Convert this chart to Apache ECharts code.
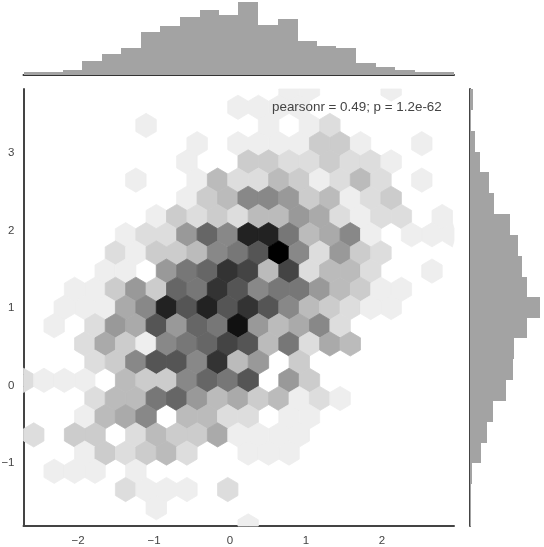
<!DOCTYPE html>
<html><head><meta charset="utf-8">
<style>html,body{margin:0;padding:0;background:#fff}#c{width:544px;height:547px}</style>
<script src="https://cdn.jsdelivr.net/npm/echarts@6/dist/echarts.min.js"></script>
</head><body><div id="c"></div>
<script>
const xTicks = [-2, -1, 0, 1, 2];
const yTicks = [-1, 0, 1, 2, 3];
const annotation = 'pearsonr = 0.49; p = 1.2e-62';
// [x, y, count]
const hexBins = [
[0.777,3.829,1],[1.046,3.829,1],[2.122,3.829,1],
[0.105,3.594,1],[0.374,3.594,1],[0.643,3.594,1],[0.912,3.594,1],
[-1.106,3.359,1],[0.508,3.359,1],[1.046,3.359,1],[1.315,3.359,2],
[-0.433,3.124,1],[0.105,3.124,1],[0.374,3.124,1],[0.643,3.124,1],[0.912,3.124,1],[1.181,3.124,3],[1.450,3.124,3],[1.719,3.124,1],[2.526,3.124,1],
[-0.568,2.889,1],[0.239,2.889,3],[0.508,2.889,3],[0.777,2.889,2],[1.046,2.889,2],[1.315,2.889,3],[1.584,2.889,2],[1.853,2.889,2],[2.122,2.889,1],
[-1.240,2.654,1],[-0.433,2.654,1],[-0.164,2.654,4],[0.105,2.654,2],[0.374,2.654,2],[0.643,2.654,4],[0.912,2.654,3],[1.181,2.654,1],[1.450,2.654,2],[1.719,2.654,4],[1.988,2.654,2],[2.526,2.654,1],
[-0.568,2.419,1],[-0.299,2.419,3],[-0.030,2.419,4],[0.239,2.419,7],[0.508,2.419,7],[0.777,2.419,6],[1.046,2.419,3],[1.315,2.419,4],[1.584,2.419,1],[1.853,2.419,2],[2.122,2.419,3],
[-0.971,2.184,1],[-0.702,2.184,3],[-0.433,2.184,2],[-0.164,2.184,3],[0.105,2.184,2],[0.374,2.184,4],[0.643,2.184,4],[0.912,2.184,6],[1.181,2.184,5],[1.450,2.184,2],[1.719,2.184,1],[1.988,2.184,2],[2.257,2.184,2],[2.795,2.184,1],
[-1.375,1.949,1],[-1.106,1.949,2],[-0.837,1.949,2],[-0.568,1.949,6],[-0.299,1.949,9],[-0.030,1.949,7],[0.239,1.949,13],[0.508,1.949,13],[0.777,1.949,8],[1.046,1.949,4],[1.315,1.949,5],[1.584,1.949,7],[1.853,1.949,1],[2.391,1.949,1],[2.660,1.949,1],[2.929,1.949,1],
[-1.509,1.714,2],[-1.240,1.714,1],[-0.971,1.714,3],[-0.702,1.714,3],[-0.433,1.714,4],[-0.164,1.714,7],[0.105,1.714,8],[0.374,1.714,10],[0.643,1.714,15],[0.912,1.714,7],[1.181,1.714,2],[1.450,1.714,6],[1.719,1.714,3],[1.988,1.714,2],
[-1.644,1.480,1],[-1.375,1.480,1],[-0.837,1.480,6],[-0.568,1.480,8],[-0.299,1.480,9],[-0.030,1.480,12],[0.239,1.480,11],[0.508,1.480,4],[0.777,1.480,11],[1.046,1.480,2],[1.315,1.480,4],[1.584,1.480,4],[1.853,1.480,2],[2.660,1.480,1],
[-2.047,1.245,1],[-1.778,1.245,1],[-1.509,1.245,3],[-1.240,1.245,6],[-0.971,1.245,3],[-0.702,1.245,9],[-0.433,1.245,8],[-0.164,1.245,12],[0.105,1.245,10],[0.374,1.245,7],[0.643,1.245,8],[0.912,1.245,8],[1.181,1.245,6],[1.450,1.245,4],[1.719,1.245,3],[1.988,1.245,1],[2.257,1.245,1],
[-2.182,1.010,1],[-1.913,1.010,1],[-1.644,1.010,1],[-1.375,1.010,5],[-1.106,1.010,7],[-0.837,1.010,13],[-0.568,1.010,10],[-0.299,1.010,13],[-0.030,1.010,10],[0.239,1.010,12],[0.508,1.010,10],[0.777,1.010,7],[1.046,1.010,4],[1.315,1.010,3],[1.584,1.010,2],[1.853,1.010,1],[2.122,1.010,1],
[-2.316,0.775,1],[-1.778,0.775,2],[-1.509,0.775,6],[-1.240,0.775,5],[-0.971,0.775,10],[-0.702,0.775,6],[-0.433,0.775,9],[-0.164,0.775,8],[0.105,0.775,14],[0.374,0.775,6],[0.643,0.775,4],[0.912,0.775,5],[1.181,0.775,7],[1.450,0.775,2],
[-1.913,0.540,2],[-1.644,0.540,5],[-1.375,0.540,3],[-1.106,0.540,1],[-0.837,0.540,7],[-0.568,0.540,8],[-0.299,0.540,9],[-0.030,0.540,11],[0.239,0.540,10],[0.508,0.540,4],[0.777,0.540,8],[1.046,0.540,2],[1.315,0.540,5],[1.584,0.540,4],
[-1.778,0.305,2],[-1.509,0.305,3],[-1.240,0.305,7],[-0.971,0.305,10],[-0.702,0.305,10],[-0.433,0.305,7],[-0.164,0.305,12],[0.105,0.305,4],[0.374,0.305,6],[0.912,0.305,3],
[-2.720,0.070,2],[-2.451,0.070,1],[-2.182,0.070,1],[-1.913,0.070,1],[-1.375,0.070,4],[-1.106,0.070,3],[-0.837,0.070,3],[-0.568,0.070,7],[-0.299,0.070,9],[-0.030,0.070,8],[0.239,0.070,10],[0.777,0.070,6],[1.046,0.070,3],
[-1.778,-0.165,2],[-1.509,-0.165,4],[-1.240,-0.165,4],[-0.971,-0.165,8],[-0.702,-0.165,9],[-0.433,-0.165,6],[-0.164,-0.165,4],[0.105,-0.165,5],[0.374,-0.165,3],[0.643,-0.165,4],[0.912,-0.165,1],[1.181,-0.165,2],[1.450,-0.165,1],
[-1.913,-0.399,1],[-1.644,-0.399,4],[-1.375,-0.399,5],[-1.106,-0.399,7],[-0.568,-0.399,4],[-0.299,-0.399,4],[-0.030,-0.399,2],[0.239,-0.399,2],[0.777,-0.399,1],[1.046,-0.399,1],
[-2.585,-0.634,2],[-2.047,-0.634,3],[-1.778,-0.634,3],[-1.240,-0.634,2],[-0.971,-0.634,4],[-0.702,-0.634,3],[-0.433,-0.634,3],[-0.164,-0.634,5],[0.105,-0.634,1],[0.374,-0.634,1],[0.643,-0.634,1],[0.912,-0.634,1],
[-1.913,-0.869,1],[-1.644,-0.869,3],[-1.375,-0.869,2],[-1.106,-0.869,3],[-0.837,-0.869,4],[-0.568,-0.869,2],[0.239,-0.869,1],[0.508,-0.869,1],[0.777,-0.869,1],
[-2.316,-1.104,1],[-2.047,-1.104,1],[-1.778,-1.104,1],[-1.240,-1.104,1],
[-1.375,-1.339,2],[-1.106,-1.339,1],[-0.837,-1.339,1],[-0.568,-1.339,1],[-0.030,-1.339,2],
[-0.971,-1.574,1],
[0.239,-1.809,1]
];
const xEdges = [-2.72,-2.46,-2.20,-1.95,-1.69,-1.43,-1.17,-0.92,-0.66,-0.40,-0.14,0.11,0.37,0.63,0.89,1.14,1.40,1.66,1.92,2.17,2.43,2.69,2.95];
const xCounts = [5,5,7,22,32,42,67,75,89,100,93,112,77,87,52,44,42,19,13,7,5,5];
const yEdges = [3.83,3.56,3.29,3.02,2.76,2.49,2.22,1.95,1.68,1.41,1.15,0.88,0.61,0.34,0.07,-0.20,-0.47,-0.74,-1.00,-1.27,-1.54,-1.81];
const yCounts = [5,2,9,17,33,43,71,85,92,102,124,102,79,76,64,41,31,20,3,1,1];

const FONT = '"Liberation Sans", Arial, sans-serif';
const AXIS = '#444';
const BAR = '#a3a3a3';
const HEX_HALF_W = 0.1345, HEX_R = 0.1565;
const fmt = v => String(v).replace('-', '\u2212');
const snap = Math.round;

const chart = echarts.init(document.getElementById('c'), null, {renderer: 'canvas'});
chart.setOption({
  animation: false,
  backgroundColor: '#fff',
  grid: [
    {left: 23.5, top: 89, width: 430.5, height: 437},
    {left: 23.5, top: 1, width: 430.5, height: 74},
    {left: 470, top: 89, width: 74, height: 437}
  ],
  xAxis: [
    {gridIndex: 0, type: 'value', min: -2.72, max: 2.95, interval: 1, splitLine: {show: false},
     axisLine: {onZero: false, lineStyle: {color: AXIS, width: 2}}, axisTick: {show: false},
     axisLabel: {show: false}},
    {gridIndex: 1, type: 'value', min: -2.72, max: 2.95, splitLine: {show: false},
     axisLine: {onZero: false, lineStyle: {color: '#333', width: 2}}, axisTick: {show: false}, axisLabel: {show: false}},
    {gridIndex: 2, type: 'value', min: 0, max: 131.6, show: false}
  ],
  yAxis: [
    {gridIndex: 0, type: 'value', min: -1.81, max: 3.83, splitLine: {show: false},
     axisLine: {onZero: false, lineStyle: {color: AXIS, width: 2}}, axisTick: {show: false}, axisLabel: {show: false}},
    {gridIndex: 1, type: 'value', min: 0, max: 114, show: false},
    {gridIndex: 2, type: 'value', min: -1.81, max: 3.83, splitLine: {show: false},
     axisLine: {onZero: false, lineStyle: {color: AXIS, width: 2}}, axisTick: {show: false}, axisLabel: {show: false}}
  ],
  series: [
    {type: 'custom', xAxisIndex: 0, yAxisIndex: 0, data: hexBins, z: 1, silent: true,
     renderItem(params, api) {
       const x = api.value(0), y = api.value(1), c = api.value(2);
       const g = Math.round(255 - 17 * c);
       const col = `rgb(${g},${g},${g})`;
       const pts = [[x, y + HEX_R], [x + HEX_HALF_W, y + HEX_R / 2], [x + HEX_HALF_W, y - HEX_R / 2],
                    [x, y - HEX_R], [x - HEX_HALF_W, y - HEX_R / 2], [x - HEX_HALF_W, y + HEX_R / 2]].map(p => api.coord(p));
       const s = params.coordSys;
       const clipped = echarts.graphic.clipPointsByRect(pts, {x: s.x, y: s.y, width: s.width, height: s.height});
       return {type: 'polygon', shape: {points: clipped}, style: {fill: col, stroke: col, lineWidth: 0.8}};
     }},
    {type: 'custom', xAxisIndex: 1, yAxisIndex: 1, data: xCounts.map((c, i) => [xEdges[i], xEdges[i + 1], c]), z: 1, silent: true,
     renderItem(params, api) {
       const a = api.coord([api.value(0), 0]), b = api.coord([api.value(1), api.value(2)]);
       const x0 = snap(a[0]), x1 = snap(b[0]), y0 = snap(b[1]), y1 = snap(a[1]);
       return {type: 'rect', shape: {x: x0, y: y0, width: x1 - x0, height: y1 - y0}, style: {fill: BAR}};
     }},
    {type: 'custom', xAxisIndex: 2, yAxisIndex: 2, data: yCounts.map((c, i) => [yEdges[i], yEdges[i + 1], c]), z: 1, silent: true,
     renderItem(params, api) {
       const a = api.coord([0, api.value(0)]), b = api.coord([api.value(2), api.value(1)]);
       const x0 = snap(a[0]), x1 = snap(b[0]), y0 = snap(a[1]), y1 = snap(b[1]);
       return {type: 'rect', shape: {x: x0, y: y0, width: x1 - x0, height: y1 - y0}, style: {fill: BAR}};
     }},
    {type: 'custom', xAxisIndex: 0, yAxisIndex: 0, data: xTicks, z: 3, silent: true, clip: false,
     renderItem(params, api) {
       const p = api.coord([api.value(0), -1.81]);
       return {type: 'text', style: {text: fmt(api.value(0)), x: p[0], y: p[1] + 15, align: 'center', verticalAlign: 'middle',
               fill: AXIS, font: '11.5px ' + FONT}};
     }},
    {type: 'custom', xAxisIndex: 0, yAxisIndex: 0, data: yTicks.map(v => [-2.72, v]), z: 3, silent: true, clip: false,
     renderItem(params, api) {
       const p = api.coord([-2.72, api.value(1)]);
       return {type: 'text', style: {text: fmt(api.value(1)), x: p[0] - 9, y: p[1], align: 'right', verticalAlign: 'middle',
               fill: AXIS, font: '11.5px ' + FONT}};
     }}
  ],
  graphic: [{type: 'text', left: 272, top: 101, z: 10,
    style: {text: annotation, fill: '#444', font: '13.4px ' + FONT}}]
});
</script></body></html>
